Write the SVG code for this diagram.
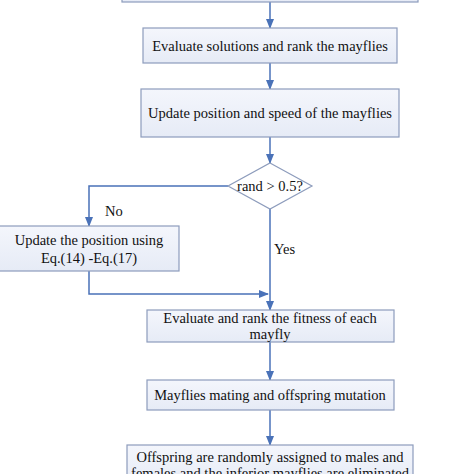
<svg xmlns="http://www.w3.org/2000/svg" width="474" height="474" viewBox="0 0 474 474">
<defs>
<linearGradient id="g" x1="0" y1="0" x2="0" y2="1">
<stop offset="0" stop-color="#f4f6fc"/>
<stop offset="1" stop-color="#e6ebf6"/>
</linearGradient>
<marker id="a" markerWidth="10" markerHeight="8" refX="9" refY="4" orient="auto" markerUnits="userSpaceOnUse">
<path d="M0,0 L10,4 L0,8 Z" fill="#4a72b8"/>
</marker>
<style>
.box{fill:url(#g);stroke:#8d9cbc;stroke-width:1.2}
.t{font-family:"Liberation Serif","Times New Roman",serif;font-size:14.5px;fill:#111;text-anchor:middle}
.l{font-family:"Liberation Serif","Times New Roman",serif;font-size:14.5px;fill:#111}
.c{fill:none;stroke:#4a72b8;stroke-width:1.5}
</style>
</defs>
<rect width="474" height="474" fill="#fff"/>
<g id="connectors">
<path class="c" d="M270,2 V28" marker-end="url(#a)"/>
<path class="c" d="M270,63 V89" marker-end="url(#a)"/>
<path class="c" d="M270,137 V163" marker-end="url(#a)"/>
<path class="c" d="M228,186 H89 V226" marker-end="url(#a)"/>
<path class="c" d="M89,271 V294 H268" marker-end="url(#a)"/>
<path class="c" d="M270,209 V310" marker-end="url(#a)"/>
<path class="c" d="M270,342 V380" marker-end="url(#a)"/>
<path class="c" d="M270,410 V445" marker-end="url(#a)"/>
</g>
<g id="n0"><rect class="box" x="122" y="-20" width="296" height="22"/></g>
<g id="n1"><rect class="box" x="143" y="28" width="254" height="35"/><text class="t" x="270" y="51">Evaluate solutions and rank the mayflies</text></g>
<g id="n2"><rect class="box" x="141" y="89" width="258" height="48"/><text class="t" x="270" y="118">Update position and speed of the mayflies</text></g>
<g id="n3"><path d="M270,163 L312,186 L270,209 L228,186 Z" fill="#fff" stroke="#8d9cbc" stroke-width="1.2"/><text class="t" x="270" y="191">rand &gt; 0.5?</text></g>
<text class="l" x="105" y="216">No</text>
<text class="l" x="274" y="254">Yes</text>
<g id="n4"><rect class="box" x="-2" y="226" width="181" height="45"/><text class="t" x="89" y="245">Update the position using</text><text class="t" x="89" y="263">Eq.(14) -Eq.(17)</text></g>
<g id="n5"><rect class="box" x="147" y="310" width="247" height="32"/><text class="t" x="270" y="323">Evaluate and rank the fitness of each</text><text class="t" x="270" y="339">mayfly</text></g>
<g id="n6"><rect class="box" x="147" y="380" width="247" height="30"/><text class="t" x="270" y="400">Mayflies mating and offspring mutation</text></g>
<g id="n7"><rect class="box" x="127" y="445" width="286" height="40"/><text class="t" x="270" y="462">Offspring are randomly assigned to males and</text><text class="t" x="270" y="478">females and the inferior mayflies are eliminated</text></g>
</svg>
